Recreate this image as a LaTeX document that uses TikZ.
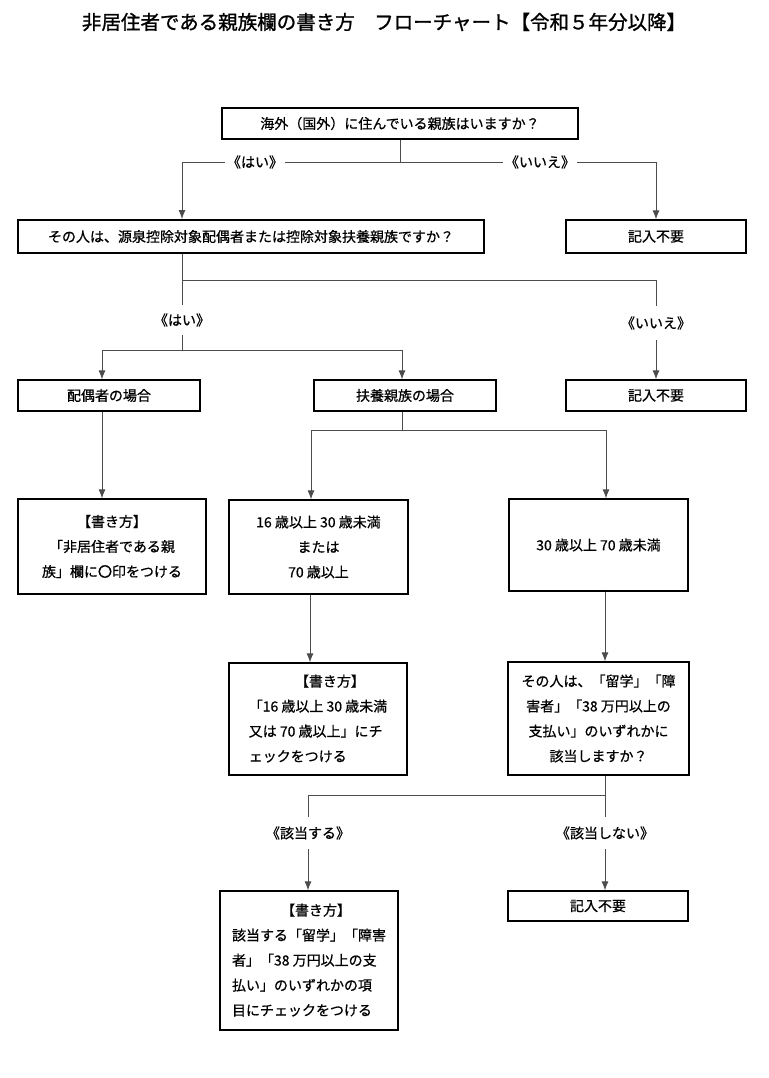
\documentclass[tikz,border=0pt]{standalone}
\usepackage{fontspec}
\setmainfont{Noto Sans CJK JP}[FakeBold=0.7]
\newfontfamily\titlefont{Noto Sans CJK JP}[FakeBold=1.2]
\usetikzlibrary{arrows.meta}
\begin{document}
\begin{tikzpicture}[x=1pt,y=-1pt,
  box/.style={draw,line width=1.3pt,inner sep=0pt,font=\fontsize{14}{25}\selectfont,align=center},
  lbl/.style={fill=white,inner sep=2pt,font=\fontsize{14}{16}\selectfont},
  ln/.style={draw=black!70,line width=0.9pt},
  ar/.style={ln,-{Latex[length=9pt,width=7pt]}}]
\useasboundingbox (0,0) rectangle (768,1078);
\node[font=\fontsize{19.5}{20}\titlefont] (title) at (384,22) {非居住者である親族欄の書き方　フローチャート【令和５年分以降】};
\node[box,minimum width=356,minimum height=31] (q1) at (400,123.5) {海外（国外）に住んでいる親族はいますか？};
\node[box,minimum width=466,minimum height=33] (q2) at (251,236.5) {その人は、源泉控除対象配偶者または控除対象扶養親族ですか？};
\node[box,minimum width=180,minimum height=33] (n1) at (656,236.5) {記入不要};
\node[box,minimum width=182,minimum height=31] (sp) at (109,395.5) {配偶者の場合};
\node[box,minimum width=182,minimum height=31] (fy) at (405,395.5) {扶養親族の場合};
\node[box,minimum width=180,minimum height=31] (n2) at (656,395.5) {記入不要};
\node[box,minimum width=188,minimum height=95] (k1) at (112,546.5) {【書き方】\\「非居住者である親\\族」欄に〇印をつける};
\node[box,minimum width=179,minimum height=94] (a1) at (318.5,547) {16 歳以上 30 歳未満\\または\\70 歳以上};
\node[box,minimum width=179,minimum height=92] (a2) at (598.5,545) {30 歳以上 70 歳未満};
\node[box,minimum width=178,minimum height=112] (k2) at (318,719) {\begin{tabular}{@{}l@{}}\hspace*{3.3em}【書き方】\\「16 歳以上 30 歳未満\\又は 70 歳以上」にチ\\ェックをつける\end{tabular}};
\node[box,minimum width=181,minimum height=113] (q3) at (598.5,718.5) {その人は、「留学」「障\\害者」「38 万円以上の\\支払い」のいずれかに\\該当しますか？};
\node[box,minimum width=180,minimum height=30] (n3) at (598,906) {記入不要};
\node[box,minimum width=178,minimum height=139] (k3) at (309,960.5) {\begin{tabular}{@{}l@{}}\hspace*{3.5em}【書き方】\\該当する「留学」「障害\\者」「38 万円以上の支\\払い」のいずれかの項\\目にチェックをつける\end{tabular}};
% level 1
\coordinate (j1) at (400,162);
\draw[ln] (q1.south) -- (j1);
\draw[ar] (j1) -- (182,162) -- (182,219);
\draw[ar] (j1) -- (656,162) -- (n1.north);
\node[lbl] (y1) at (255,162) {《はい》};
\node[lbl] (no1) at (540,162) {《いいえ》};
% level 2
\coordinate (j2) at (182,280);
\draw[ln] (j2 |- q2.south) -- (j2);
\draw[ar] (j2) -- (656,280) -- (n2.north);
\node[lbl,inner ysep=10pt] (no2) at (656,323) {《いいえ》};
\coordinate (j3) at (182,350);
\draw[ln] (j2) -- (j3);
\node[lbl,inner ysep=8pt] (y2) at (182,320) {《はい》};
\draw[ar] (j3) -- (102,350) -- (sp.north -| 102,0);
\draw[ar] (j3) -- (402,350) -- (fy.north -| 402,0);
% level 3
\draw[ar] (sp.south -| 102,0) -- (k1.north -| 102,0);
\coordinate (j4) at (402,430);
\draw[ln] (fy.south -| 402,0) -- (j4);
\draw[ar] (j4) -- (311,430) -- (a1.north -| 311,0);
\draw[ar] (j4) -- (606,430) -- (a2.north -| 606,0);
\draw[ar] (a1.south -| 310,0) -- (k2.north -| 310,0);
\draw[ar] (a2.south -| 605,0) -- (q3.north -| 605,0);
% level 4
\coordinate (j5) at (605,795);
\draw[ln] (q3.south -| 605,0) -- (j5);
\draw[ar] (j5) -- (n3.north -| 605,0);
\draw[ar] (j5) -- (308,795) -- (k3.north -| 308,0);
\node[lbl,inner ysep=9pt] (y3) at (308,833) {《該当する》};
\node[lbl,inner ysep=9pt] (no3) at (605,833) {《該当しない》};
\end{tikzpicture}
\end{document}
